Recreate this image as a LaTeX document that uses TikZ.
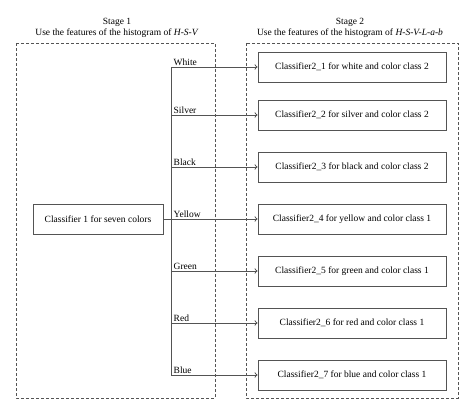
\documentclass[tikz,border=0pt]{standalone}
\usepackage{fontspec}
\setmainfont{Liberation Serif}
\usetikzlibrary{arrows}
\definecolor{dgray}{rgb}{0.33,0.33,0.33}

\begin{document}
\begin{tikzpicture}[x=1pt,y=-1pt,font=\fontsize{9.5}{11}\selectfont,
  stagebox/.style={draw=dgray,line width=0.8pt,dash pattern=on 3pt off 2pt},
  clsbox/.style={draw=dgray,line width=1pt,minimum height=30pt,inner sep=0pt},
  branch/.style={draw=dgray,line width=1pt},
  colorlbl/.style={anchor=south west,inner sep=1.5pt,xshift=1pt}]
\useasboundingbox (0,0) rectangle (474,415);
\node[align=center] (title1) at (117,28) {Stage 1\\Use the features of the histogram of \textit{H-S-V}};
\node[align=center] (title2) at (350,28) {Stage 2\\Use the features of the histogram of \textit{H-S-V-L-a-b}};
\draw[stagebox] (16,43) rectangle (215,398);
\draw[stagebox] (246,43) rectangle (458,398);
\node[clsbox,minimum width=130pt] (c1) at (98,219) {Classifier 1 for seven colors};
\node[clsbox,minimum width=188pt] (c21) at (352,67) {Classifier2\_1 for white and color class 2};
\node[clsbox,minimum width=188pt] (c22) at (352,115) {Classifier2\_2 for silver and color class 2};
\node[clsbox,minimum width=188pt] (c23) at (352,167) {Classifier2\_3 for black and color class 2};
\node[clsbox,minimum width=188pt] (c24) at (352,219) {Classifier2\_4 for yellow and color class 1};
\node[clsbox,minimum width=188pt] (c25) at (352,271) {Classifier2\_5 for green and color class 1};
\node[clsbox,minimum width=188pt] (c26) at (352,323) {Classifier2\_6 for red and color class 1};
\node[clsbox,minimum width=188pt] (c27) at (352,375) {Classifier2\_7 for blue and color class 1};
\coordinate (white) at (171,67);
\coordinate (silver) at (171,115);
\coordinate (black) at (171,167);
\coordinate (yellow) at (171,219);
\coordinate (green) at (171,271);
\coordinate (red) at (171,323);
\coordinate (blue) at (171,375);
\draw[branch] (c1.east) -- (yellow);
\draw[branch] (white) -- (blue);
\draw[branch,->] (white) -- (c21.west);
\draw[branch,->] (silver) -- (c22.west);
\draw[branch,->] (black) -- (c23.west);
\draw[branch,->] (yellow) -- (c24.west);
\draw[branch,->] (green) -- (c25.west);
\draw[branch,->] (red) -- (c26.west);
\draw[branch,->] (blue) -- (c27.west);
\node[colorlbl] (lwhite) at (white) {White};
\node[colorlbl] (lsilver) at (silver) {Silver};
\node[colorlbl] (lblack) at (black) {Black};
\node[colorlbl] (lyellow) at (yellow) {Yellow};
\node[colorlbl] (lgreen) at (green) {Green};
\node[colorlbl] (lred) at (red) {Red};
\node[colorlbl] (lblue) at (blue) {Blue};
\end{tikzpicture}
\end{document}
